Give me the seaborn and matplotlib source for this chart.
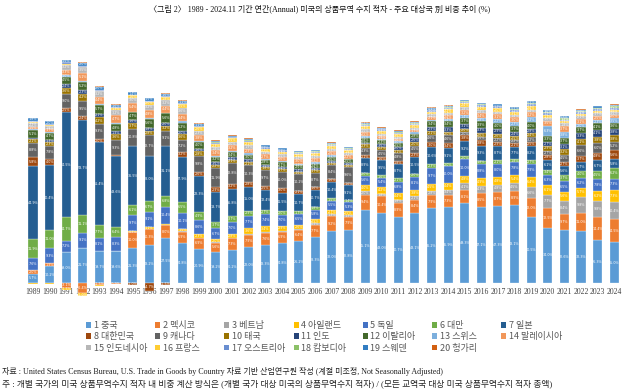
import numpy as np
import pandas as pd
import matplotlib
matplotlib.use('Agg')
import matplotlib.pyplot as plt
from matplotlib.patches import Patch
import seaborn as sns

sns.set_style('white')
plt.rcParams['font.family'] = ['Noto Sans CJK KR', 'DejaVu Sans']

## data: share (%) of US goods trade deficit by partner, 1989 - 2024.11
years = [str(y) for y in range(1989, 2025)]

china = [5.7, 10.2, 19.0, 21.7, 19.7, 19.6, 21.3, 23.2, 27.5, 24.8, 20.9, 19.2, 20.2, 22.0, 23.3, 24.8, 26.2, 28.3,
         32.0, 32.8, 45.1, 43.0, 40.7, 43.1, 46.2, 46.9, 49.3, 47.1, 47.3, 48.1, 40.5, 34.0, 32.6, 32.3, 26.3, 25.0]
mexico = [2.0, 1.9, -3.1, -6.4, -1.5, -0.9, 10.0, 10.3, 8.0, 6.9, 6.9, 5.6, 7.3, 7.9, 7.6, 6.9, 6.4, 7.7,
          9.2, 7.9, 9.4, 10.4, 8.9, 8.4, 7.9, 7.3, 8.1, 8.5, 8.7, 8.9, 12.0, 12.5, 9.7, 11.0, 14.4, 14.5]
vietnam = [0, 0, 0, 0, 0, 0, 0, 0.1, 0.2, 0.2, 0.2, 0.2, 0.2, 0.4, 0.8, 0.6, 0.8, 0.9,
           1.3, 1.3, 2.0, 1.8, 1.8, 2.1, 2.8, 3.4, 4.1, 4.3, 4.8, 4.5, 6.6, 7.7, 8.4, 9.8, 9.8, 10.4]
ireland = [-0.5, -0.5, -1.5, -0.8, -0.3, 0.2, 0.9, 1.1, 0.8, 1.5, 2.3, 2.0, 2.8, 3.6, 3.4, 2.9, 2.6, 2.5,
           2.7, 2.5, 4.0, 4.2, 4.4, 3.8, 4.5, 4.4, 4.8, 4.9, 4.8, 5.4, 6.4, 6.1, 5.6, 5.7, 6.2, 7.3]
germany = [7.6, 9.3, 7.2, 9.1, 8.1, 8.3, 9.7, 9.1, 10.4, 10.1, 8.6, 6.7, 7.0, 7.7, 7.4, 7.0, 6.5, 5.8,
           5.5, 5.3, 5.6, 5.4, 6.8, 8.1, 9.7, 10.0, 10.0, 8.8, 8.0, 7.8, 7.9, 6.3, 6.5, 6.2, 7.8, 7.3]
taiwan = [11.9, 11.0, 14.7, 11.1, 7.7, 6.4, 6.1, 6.7, 6.8, 6.5, 4.9, 3.7, 3.7, 2.9, 2.7, 2.0, 1.7, 1.8,
          1.5, 1.4, 2.0, 1.6, 2.1, 2.0, 2.3, 2.0, 2.0, 1.8, 2.1, 1.8, 2.7, 3.4, 3.7, 4.0, 4.5, 6.2]
japan = [44.9, 40.4, 64.5, 58.7, 51.4, 43.6, 36.5, 28.0, 31.1, 27.9, 22.3, 18.7, 16.8, 15.0, 12.4, 11.5, 10.7, 10.7,
         10.4, 9.1, 8.9, 9.5, 8.7, 10.5, 10.6, 9.1, 9.2, 9.3, 8.7, 7.7, 8.2, 6.1, 5.6, 5.7, 6.7, 5.8]
korea = [5.8, 4.0, 2.5, 2.4, 2.0, 0.7, -1.0, -4.7, -1.5, 3.2, 2.6, 2.9, 3.2, 2.8, 2.5, 3.0, 2.1, 1.6,
         1.6, 1.6, 2.1, 1.6, 1.8, 2.3, 3.0, 3.4, 3.8, 3.8, 2.9, 2.1, 2.5, 2.8, 2.7, 3.7, 4.8, 5.6]
canada = [8.8, 7.8, 9.0, 9.5, 9.3, 9.3, 10.8, 12.7, 9.1, 7.2, 9.8, 11.9, 12.8, 10.3, 9.7, 10.0, 10.2, 8.7,
          8.4, 9.6, 4.3, 4.5, 4.8, 4.5, 4.6, 4.6, 2.0, 1.5, 2.2, 2.2, 3.2, 2.7, 4.5, 6.6, 6.0, 5.2]
thailand = [2.1, 2.3, 3.6, 4.2, 4.2, 3.6, 3.7, 2.8, 3.2, 3.6, 2.8, 2.2, 2.1, 2.1, 1.8, 1.7, 1.5, 1.7,
            1.7, 1.6, 2.3, 2.2, 2.1, 2.0, 2.1, 2.0, 2.0, 2.6, 2.6, 2.5, 2.4, 2.9, 3.2, 4.1, 3.8, 3.8]
india = [0.7, 1.3, 2.4, 2.3, 2.1, 1.9, 1.6, 1.8, 2.0, 2.0, 1.6, 1.6, 1.4, 1.6, 1.5, 1.4, 1.4, 1.4,
         0.9, 1.0, 0.9, 1.6, 2.0, 2.6, 2.9, 3.3, 3.1, 3.3, 2.9, 2.4, 2.8, 2.7, 3.1, 3.3, 4.1, 3.8]
italy = [5.1, 4.7, 4.5, 5.2, 5.7, 4.8, 4.7, 5.6, 5.6, 5.2, 4.0, 3.2, 3.4, 3.0, 2.8, 2.7, 2.5, 2.4,
         2.6, 2.5, 2.8, 2.3, 2.5, 2.8, 3.4, 3.4, 3.7, 3.9, 4.0, 3.7, 4.0, 3.3, 3.7, 3.7, 4.1, 3.6]
switzerland = [0.3, 0.5, 1.0, 0.5, 0.5, 0.5, 0.5, 0.6, 0.5, 0.8, 0.6, 0.6, 0.8, 0.8, 0.8, 0.8, 1.1, 1.0,
               1.1, 0.2, 1.5, 1.1, 1.0, 0.8, 0.6, 1.4, 1.4, 1.8, 2.2, 2.3, 3.2, 6.3, 3.8, 2.0, 2.3, 3.5]
malaysia = [1.5, 1.7, 3.3, 5.1, 4.4, 4.7, 5.4, 4.8, 4.4, 4.4, 3.8, 3.4, 3.2, 2.9, 2.7, 2.6, 3.0, 2.9,
            2.6, 2.2, 2.5, 1.8, 1.6, 1.7, 2.1, 2.4, 3.2, 3.4, 3.1, 3.0, 3.2, 3.5, 3.7, 3.1, 2.5, 2.0]
indonesia = [2.2, 1.8, 3.2, 3.5, 3.2, 3.2, 3.0, 3.2, 3.2, 3.6, 2.3, 1.8, 2.0, 1.9, 1.3, 1.5, 1.2, 1.1,
             1.3, 1.1, 1.5, 1.2, 1.2, 1.2, 1.4, 1.4, 1.8, 1.8, 1.6, 1.4, 1.4, 1.6, 1.8, 2.1, 1.7, 1.5]
france = [1.0, 0.5, 0.5, -1.0, 0.3, 1.3, 1.6, 2.0, 1.8, 2.5, 2.6, 2.3, 2.5, 2.1, 2.2, 1.7, 1.5, 1.6,
          1.8, 1.8, 1.9, 1.8, 1.6, 1.6, 1.6, 2.2, 2.4, 2.1, 2.0, 1.9, 2.4, 1.7, 1.3, 0.9, 1.2, 1.5]
austria = [0.6, 0.6, 0.8, 0.7, 0.6, 0.5, 0.5, 0.6, 0.6, 0.7, 0.6, 0.6, 0.7, 0.8, 0.9, 0.9, 0.9, 0.9,
           0.9, 0.9, 0.9, 0.9, 0.8, 0.9, 1.0, 1.0, 1.1, 1.1, 1.2, 1.2, 1.3, 1.2, 1.0, 1.1, 1.3, 1.2]
cambodia = [0, 0, 0, 0, 0, 0, 0, 0, 0.1, 0.2, 0.2, 0.2, 0.2, 0.3, 0.3, 0.3, 0.3, 0.3,
            0.3, 0.3, 0.4, 0.3, 0.4, 0.4, 0.4, 0.4, 0.4, 0.4, 0.5, 0.6, 0.6, 1.0, 1.1, 1.0, 0.8, 1.0]
sweden = [1.8, 2.0, 1.5, 2.0, 2.0, 1.6, 1.4, 1.5, 1.6, 1.1, 1.1, 0.8, 0.7, 0.8, 0.8, 0.8, 0.8, 0.8,
          0.8, 0.6, 0.9, 0.6, 0.7, 0.8, 0.9, 0.9, 0.6, 0.7, 0.8, 0.9, 0.9, 1.0, 0.9, 0.7, 0.8, 0.8]
hungary = [0.1, 0.1, 0.2, 0.2, 0.2, 0.1, 0.2, 0.2, 0.5, 0.6, 0.6, 0.4, 0.4, 0.4, 0.3, 0.3, 0.3, 0.3,
           0.2, 0.3, 0.3, 0.3, 0.3, 0.3, 0.4, 0.4, 0.3, 0.3, 0.3, 0.4, 0.4, 0.3, 0.4, 0.4, 0.4, 0.5]

names = ['1 중국', '2 멕시코', '3 베트남', '4 아일랜드', '5 독일', '6 대만', '7 일본',
         '8 대한민국', '9 캐나다', '10 태국', '11 인도', '12 이탈리아', '13 스위스', '14 말레이시아',
         '15 인도네시아', '16 프랑스', '17 오스트리아', '18 캄보디아', '19 스웨덴', '20 헝가리']
series = [china, mexico, vietnam, ireland, germany, taiwan, japan, korea, canada, thailand,
          india, italy, switzerland, malaysia, indonesia, france, austria, cambodia, sweden, hungary]
colors = ['#5B9BD5', '#ED7D31', '#A5A5A5', '#FFC000', '#4472C4', '#70AD47', '#255E91',
          '#9E480E', '#636363', '#997300', '#264478', '#43682B', '#7CAFDD', '#F1975A',
          '#B7B7B7', '#FFCD33', '#698ED0', '#8CC168', '#327DC2', '#D26012']

fig = plt.figure(figsize=(6.4, 3.92), dpi=100)
ax = fig.add_axes([0.0386, 0.237, 0.934, 0.640])

# stacked columns: positives pile up from 0, negatives pile down from 0
pos = np.zeros(len(years))
neg = np.zeros(len(years))
for name, vals, c in zip(names, series, colors):
    v = np.array(vals, dtype=float)
    bottom = np.where(v >= 0, pos, neg)
    sns.barplot(x=years, y=v, bottom=bottom, color=c, saturation=1, width=0.55,
                errorbar=None, edgecolor='white', linewidth=0.2, ax=ax)
    labels = [f'{x:.1f}%' if abs(x) >= 0.9 else '' for x in v]
    ax.bar_label(ax.containers[-1], labels=labels, label_type='center',
                 fontsize=2.4, color='white', family='DejaVu Sans')
    pos = pos + np.where(v >= 0, v, 0)
    neg = neg + np.where(v < 0, v, 0)

ax.set_ylim(-10, 145)
ax.set_xlim(-0.5, len(years) - 0.5)
ax.set_yticks([])
ax.set_xlabel('')
ax.set_ylabel('')
for s in ['top', 'right', 'left']:
    ax.spines[s].set_visible(False)
ax.spines['bottom'].set_position(('data', 0))
ax.spines['bottom'].set_visible(False)
ax.tick_params(axis='x', length=0, pad=3.5, labelsize=5.5, labelcolor='#404040')
for t in ax.get_xticklabels():
    t.set_family(['Liberation Serif', 'DejaVu Serif'])

# legend, Excel style: row-major, evenly spaced columns
handles = [Patch(facecolor=c, edgecolor='none') for c in colors]
for j in range(7):
    idx = [k for k in (j, j + 7, j + 14) if k < len(names)]
    fig.legend([handles[k] for k in idx], [names[k] for k in idx],
               loc='upper left', bbox_to_anchor=(86 / 640 + j * 69.2 / 640, 1 - 321 / 392),
               frameon=False, fontsize=6.5, labelspacing=0.25, handlelength=0.55,
               handleheight=0.55, handletextpad=0.3, borderpad=0, borderaxespad=0,
               labelcolor='#595959')

serif_kr = ['Liberation Serif', 'Noto Sans CJK KR']
fig.text(0.5, 1 - 9 / 392, '〈그림 2〉 1989 - 2024.11 기간 연간(Annual) 미국의 상품무역 수지 적자 - 주요 대상국 別 비중 추이 (%)',
         ha='center', va='center', fontsize=5.8, family=serif_kr, color='#111111')
fig.text(2 / 640, 1 - 371 / 392,
         '자료 : United States Census Bureau, U.S. Trade in Goods by Country 자료 기반 산업연구원 작성 (계절 미조정, Not Seasonally Adjusted)',
         ha='left', va='center', fontsize=5.8, family=serif_kr, color='#222222')
fig.text(2 / 640, 1 - 384 / 392,
         '주 : 개별 국가의 미국 상품무역수지 적자 내 비중 계산 방식은 (개별 국가 대상 미국의 상품무역수지 적자) / (모든 교역국 대상 미국 상품무역수지 적자 총액)',
         ha='left', va='center', fontsize=6.3, family=serif_kr, color='#222222')

fig.savefig('out.png', dpi=100, facecolor='white')
